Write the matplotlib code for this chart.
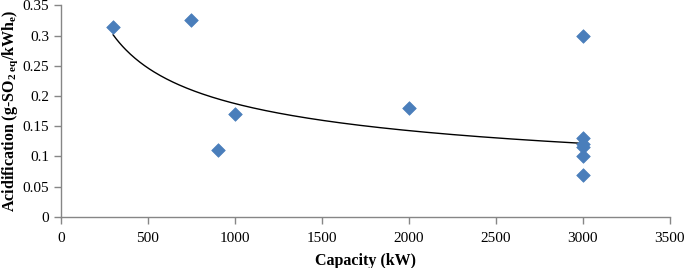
import numpy as np
import matplotlib
matplotlib.use("Agg")
import matplotlib.pyplot as plt

plt.rcParams['font.family'] = ['Liberation Serif', 'DejaVu Serif']
plt.rcParams['mathtext.fontset'] = 'custom'
plt.rcParams['mathtext.rm'] = 'Liberation Serif'
plt.rcParams['mathtext.bf'] = 'Liberation Serif:bold'
plt.rcParams['mathtext.it'] = 'Liberation Serif:italic'

capacity = [300, 750, 900, 1000, 2000, 3000, 3000, 3000, 3000, 3000, 3000]
acidification = [0.315, 0.325, 0.11, 0.17, 0.18, 0.30, 0.13, 0.12, 0.115, 0.10, 0.07]

# power trendline y = a * x^b
trend_a = 2.85
trend_b = -0.394
trend_range = [300, 3000]

x_ticks = [0, 500, 1000, 1500, 2000, 2500, 3000, 3500]
y_ticks = [0, 0.05, 0.1, 0.15, 0.2, 0.25, 0.3, 0.35]
y_tick_labels = ['0', '0.05', '0.1', '0.15', '0.2', '0.25', '0.3', '0.35']

fig = plt.figure(figsize=(6.85, 2.68), dpi=100)
ax = fig.add_axes([0.089, 0.191, 0.889, 0.789])

xs = np.linspace(trend_range[0], trend_range[1], 300)
ax.plot(xs, trend_a * xs ** trend_b, color='black', lw=1.0, zorder=2)
ax.scatter(capacity, acidification, marker='D', s=48, color='#4a7ebb',
           edgecolors='#4a7ebb', linewidths=0.5, zorder=3)

ax.set_xlim(0, 3500)
ax.set_ylim(0, 0.35)
ax.set_xticks(x_ticks)
ax.set_xticklabels([str(t) for t in x_ticks])
ax.set_yticks(y_ticks)
ax.set_yticklabels(y_tick_labels)

for s in ['top', 'right']:
    ax.spines[s].set_visible(False)
for s in ['left', 'bottom']:
    ax.spines[s].set_color('#868686')
    ax.spines[s].set_linewidth(1.0)
ax.tick_params(axis='both', colors='#868686', length=5, width=1.0,
               labelcolor='black', labelsize=11, direction='out')
ax.tick_params(axis='x', pad=6)

ax.set_xlabel('Capacity (kW)', fontsize=11.5, fontweight='bold', labelpad=6)
ax.set_ylabel(r'Acidification (g-SO$_\mathbf{2\ eq}$/kWh$_\mathbf{e}$)',
              fontsize=11.5, fontweight='bold', labelpad=2)

fig.savefig('out.png', dpi=100)
